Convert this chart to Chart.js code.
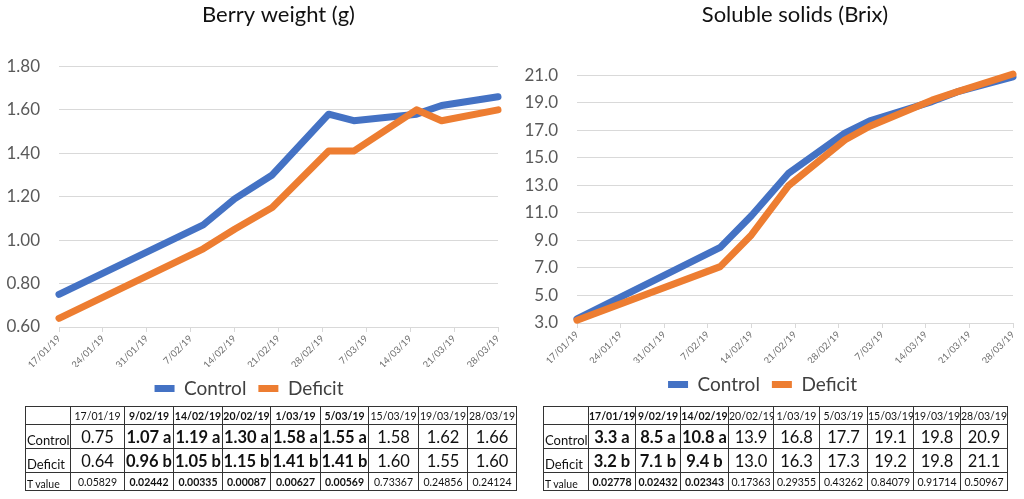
<!DOCTYPE html>
<html>
<head>
<meta charset="utf-8">
<script src="https://cdn.jsdelivr.net/npm/chart.js@4.4.1/dist/chart.umd.min.js"></script>
<style>
    body { margin: 0; background: #fff; width: 1024px; height: 499px; overflow: hidden; position: relative; font-family: Lato, sans-serif; }
    .grafico { position: absolute; top: 0; width: 512px; }
    table { position: absolute; top: 406px; border-collapse: collapse; table-layout: fixed; color: #111; }
    td { border: 1px solid #333; text-align: center; padding: 0; white-space: nowrap; overflow: hidden; }
    tr.fecha td { height: 17px; font-size: 10.5px; }
    tr.valor td { height: 23px; font-size: 16.5px; }
    tr.tval td { height: 17px; font-size: 10.5px; }
    td.etiqueta { text-align: left; font-size: 13px !important; vertical-align: bottom; padding-left: 1px; }
    .neg { font-weight: bold; }
</style>
</head>
<body>
<div class="grafico" id="caja-peso" style="left:0; height:408px;"><canvas id="grafica-peso"></canvas></div>
<div class="grafico" id="caja-brix" style="left:512px; height:404px;"><canvas id="grafica-brix"></canvas></div>
<table id="tabla-peso" style="left:25px;"></table>
<table id="tabla-brix" style="left:543px;"></table>

<script>
const fechas = ['17/01/19', '9/02/19', '14/02/19', '20/02/19', '1/03/19', '5/03/19', '15/03/19', '19/03/19', '28/03/19'];

const pesoControl = [0.75, 1.07, 1.19, 1.30, 1.58, 1.55, 1.58, 1.62, 1.66];
const pesoDeficit = [0.64, 0.96, 1.05, 1.15, 1.41, 1.41, 1.60, 1.55, 1.60];
const pesoT = ['0.05829', '0.02442', '0.00335', '0.00087', '0.00627', '0.00569', '0.73367', '0.24856', '0.24124'];

const brixControl = [3.3, 8.5, 10.8, 13.9, 16.8, 17.7, 19.1, 19.8, 20.9];
const brixDeficit = [3.2, 7.1, 9.4, 13.0, 16.3, 17.3, 19.2, 19.8, 21.1];
const brixT = ['0.02778', '0.02432', '0.02343', '0.17363', '0.29355', '0.43262', '0.84079', '0.91714', '0.50967'];

// eje x: dias desde 17/01/19, marcas cada 7 dias hasta 28/03/19
const diaInicio = '17/01/19';
const diaFin = '28/03/19';
const pasoDias = 7;

const azul = '#4472C4';
const naranja = '#ED7D31';

function aFecha(txt) {
    const [d, m, a] = txt.split('/').map(Number);
    return Date.UTC(2000 + a, m - 1, d);
}

function aDia(txt) {
    return (aFecha(txt) - aFecha(diaInicio)) / 86400000;
}

function etiquetaDia(valor) {
    const f = new Date(aFecha(diaInicio) + valor * 86400000);
    const mes = String(f.getUTCMonth() + 1).padStart(2, '0');
    const anio = String(f.getUTCFullYear()).slice(2);
    return `${f.getUTCDate()}/${mes}/${anio}`;
}

function puntos(valores) {
    return fechas.map((f, i) => ({ x: aDia(f), y: valores[i] }));
}

function generarGrafica(id, titulo, control, deficit, ejeY, medidas) {
    const ctx = document.getElementById(id).getContext('2d');
    const linea = {
        borderWidth: 7,
        pointRadius: 0,
        tension: 0,
        borderCapStyle: 'round',
        borderJoinStyle: 'round',
        clip: false
    };

    return new Chart(ctx, {
        type: 'line',
        data: {
            datasets: [
                { label: 'Control', data: puntos(control), borderColor: azul, backgroundColor: azul, order: 2, ...linea },
                { label: 'Deficit', data: puntos(deficit), borderColor: naranja, backgroundColor: naranja, order: 1, ...linea }
            ]
        },
        options: {
            responsive: true,
            maintainAspectRatio: false,
            animation: false,
            layout: { padding: { left: 0, right: medidas.derecha, top: 0, bottom: 0 } },
            plugins: {
                title: {
                    display: true,
                    text: titulo,
                    fullSize: false,
                    color: '#111',
                    font: { family: 'Lato', size: 22, weight: 'normal' },
                    padding: { top: 2, bottom: medidas.arriba - 28 }
                },
                legend: {
                    position: 'bottom',
                    labels: {
                        usePointStyle: true,
                        pointStyle: 'line',
                        boxHeight: 14,
                        pointStyleWidth: 20,
                        padding: 12,
                        color: '#404040',
                        font: { family: 'Lato', size: 19 },
                        sort: (a, b) => a.datasetIndex - b.datasetIndex
                    }
                },
                tooltip: { enabled: false }
            },
            scales: {
                x: {
                    type: 'linear',
                    min: 0,
                    max: aDia(diaFin),
                    afterFit: (escala) => { escala.height = medidas.ejeX; },
                    ticks: {
                        stepSize: pasoDias,
                        autoSkip: false,
                        maxRotation: 45,
                        minRotation: 45,
                        padding: 1,
                        color: '#6f6f6f',
                        font: { family: 'Lato', size: 9.5 },
                        callback: (v) => etiquetaDia(v)
                    },
                    grid: { drawOnChartArea: false, drawTicks: true, tickLength: 5, color: '#d9d9d9' },
                    border: { color: '#d9d9d9' }
                },
                y: {
                    min: ejeY.min,
                    max: ejeY.max,
                    afterFit: (escala) => { escala.width = medidas.izquierda; },
                    ticks: {
                        stepSize: ejeY.paso,
                        padding: 19,
                        color: '#595959',
                        font: { family: 'Lato', size: 17 },
                        callback: (v) => v.toFixed(ejeY.decimales)
                    },
                    grid: { drawTicks: false, color: '#d9d9d9' },
                    border: { display: false }
                }
            }
        }
    });
}

function actualizarTabla(id, control, deficit, tValores, decimales, anchos) {
    const tabla = document.getElementById(id);
    const sig = tValores.map(t => parseFloat(t) < 0.05);
    let html = '<colgroup>' + anchos.map(w => `<col style="width:${w}px">`).join('') + '</colgroup>';
    html += '<tr class="fecha"><td></td>' + fechas.map((f, i) => `<td class="${sig[i] ? 'neg' : ''}">${f}</td>`).join('') + '</tr>';
    html += '<tr class="valor"><td class="etiqueta">Control</td>' + control.map((v, i) =>
        `<td class="${sig[i] ? 'neg' : ''}">${v.toFixed(decimales)}${sig[i] ? ' a' : ''}</td>`).join('') + '</tr>';
    html += '<tr class="valor"><td class="etiqueta">Deficit</td>' + deficit.map((v, i) =>
        `<td class="${sig[i] ? 'neg' : ''}">${v.toFixed(decimales)}${sig[i] ? ' b' : ''}</td>`).join('') + '</tr>';
    html += '<tr class="tval"><td class="etiqueta" style="font-size:10.5px !important">T value</td>' + tValores.map((t, i) =>
        `<td class="${sig[i] ? 'neg' : ''}">${t}</td>`).join('') + '</tr>';
    tabla.innerHTML = html;
    tabla.style.width = anchos.reduce((a, b) => a + b, 0) + 'px';
}

generarGrafica('grafica-peso', 'Berry weight (g)', pesoControl, pesoDeficit,
    { min: 0.6, max: 1.8, paso: 0.2, decimales: 2 },
    { izquierda: 59, derecha: 14, arriba: 66, ejeX: 40 });

generarGrafica('grafica-brix', 'Soluble solids (Brix)', brixControl, brixDeficit,
    { min: 3, max: 21, paso: 2, decimales: 1 },
    { izquierda: 65, derecha: 11, arriba: 75, ejeX: 40 });

actualizarTabla('tabla-peso', pesoControl, pesoDeficit, pesoT, 2, [45, 54, 49, 49, 48, 50, 48, 50, 49, 49]);
actualizarTabla('tabla-brix', brixControl, brixDeficit, brixT, 1, [45, 47, 45, 48, 45, 46, 48, 46, 47, 47]);
</script>
</body>
</html>
